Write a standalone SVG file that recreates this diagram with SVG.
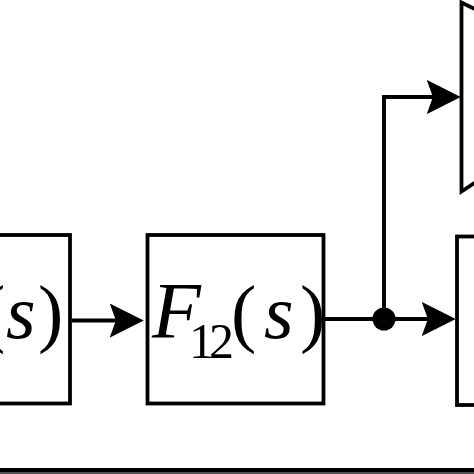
<svg xmlns="http://www.w3.org/2000/svg" width="474" height="474" viewBox="0 0 474 474">
<style>
.blk{fill:none;stroke:#000;stroke-width:3.8}
.wire{fill:none;stroke:#000;stroke-width:3.9}
</style>
<defs>
<marker id="ah" markerUnits="userSpaceOnUse" markerWidth="34" markerHeight="34" viewBox="0 0 33 33" refX="8" refY="16.5" orient="auto">
<path d="M0,0 L33,16.5 L0,33 L6,16.5 Z" fill="#000"/>
</marker>
</defs>
<rect width="474" height="474" fill="#fff"/>
<g id="node-left">
<rect class="blk" x="-60" y="235" width="130" height="168.5"/>
<text font-family="Liberation Serif, serif" y="338" font-size="76" fill="#000"><tspan x="-20">(</tspan><tspan font-style="italic" x="6">s</tspan><tspan x="38">)</tspan></text>
</g>
<g id="node-f12">
<rect class="blk" x="147.5" y="235" width="176" height="168.5"/>
<text font-family="Liberation Serif, serif" y="338" font-size="76" fill="#000"><tspan font-style="italic" x="152" font-size="80">F</tspan><tspan x="189" y="358" font-size="50" letter-spacing="-5">12</tspan><tspan x="231" y="338">(</tspan><tspan font-style="italic" x="264">s</tspan><tspan x="300">)</tspan></text>
</g>
<g id="node-right">
<rect class="blk" x="457" y="236.5" width="60" height="168.5"/>
</g>
<g id="node-amp">
<path class="blk" d="M485,14 L461.5,2.5 L461.5,191.5 L485,176"/>
</g>
<g id="connectors">
<line class="wire" x1="72" y1="320.5" x2="118" y2="320.5" marker-end="url(#ah)"/>
<line class="wire" x1="325" y1="319" x2="430" y2="319" marker-end="url(#ah)"/>
<path class="wire" d="M384,319 V97 H435" marker-end="url(#ah)"/>
<circle cx="384" cy="319" r="11.5" fill="#000"/>
</g>
<g id="bottom-line">
<rect x="0" y="468" width="474" height="4" fill="#000"/>
<rect x="0" y="472" width="474" height="2" fill="#505050"/>
</g>
</svg>
